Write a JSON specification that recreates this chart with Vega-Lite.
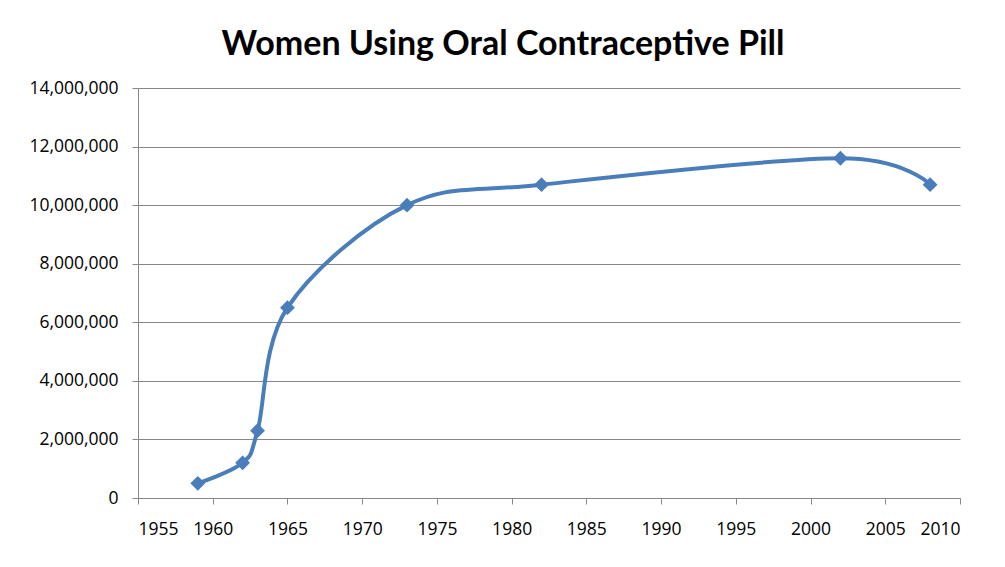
{
  "$schema": "https://vega.github.io/schema/vega-lite/v6.json",
  "autosize": "none",
  "width": 822,
  "height": 410,
  "padding": {"left": 138, "top": 88, "right": 45, "bottom": 69},
  "background": "white",
  "title": {"text": "Women Using Oral Contraceptive Pill", "fontSize": 34, "font": "Lato", "fontWeight": "bold", "color": "black", "dx": -46, "offset": 17, "anchor": "middle"},
  "data": {"values": [
    {"year": 1959, "women": 500000},
    {"year": 1962, "women": 1200000},
    {"year": 1963, "women": 2300000},
    {"year": 1965, "women": 6500000},
    {"year": 1973, "women": 10000000},
    {"year": 1982, "women": 10700000},
    {"year": 2002, "women": 11600000},
    {"year": 2008, "women": 10700000}
  ]},
  "config": {
    "view": {"stroke": null},
    "axis": {"labelFont": "Open Sans", "labelFontSize": 17.5, "labelColor": "black", "domainColor": "#888888", "tickColor": "#888888", "gridColor": "#888888", "gridOpacity": 1, "tickSize": 6, "title": null}
  },
  "layer": [
    {
      "mark": {"type": "line", "interpolate": "cardinal", "color": "#4a7ebb", "strokeWidth": 4},
      "encoding": {
        "x": {"field": "year", "type": "quantitative", "scale": {"domain": [1955, 2010], "nice": false}, "axis": {"values": [1955,1960,1965,1970,1975,1980,1985,1990,1995,2000,2005,2010], "format": "d", "grid": false, "labelPadding": 16}},
        "y": {"field": "women", "type": "quantitative", "scale": {"domain": [0, 14000000], "nice": false}, "axis": {"values": [0,2000000,4000000,6000000,8000000,10000000,12000000,14000000], "format": ",d", "grid": true, "labelPadding": 14}}
      }
    },
    {
      "mark": {"type": "point", "shape": "diamond", "filled": true, "size": 220, "color": "#4a7ebb", "opacity": 1},
      "encoding": {
        "x": {"field": "year", "type": "quantitative"},
        "y": {"field": "women", "type": "quantitative"}
      }
    }
  ]
}
